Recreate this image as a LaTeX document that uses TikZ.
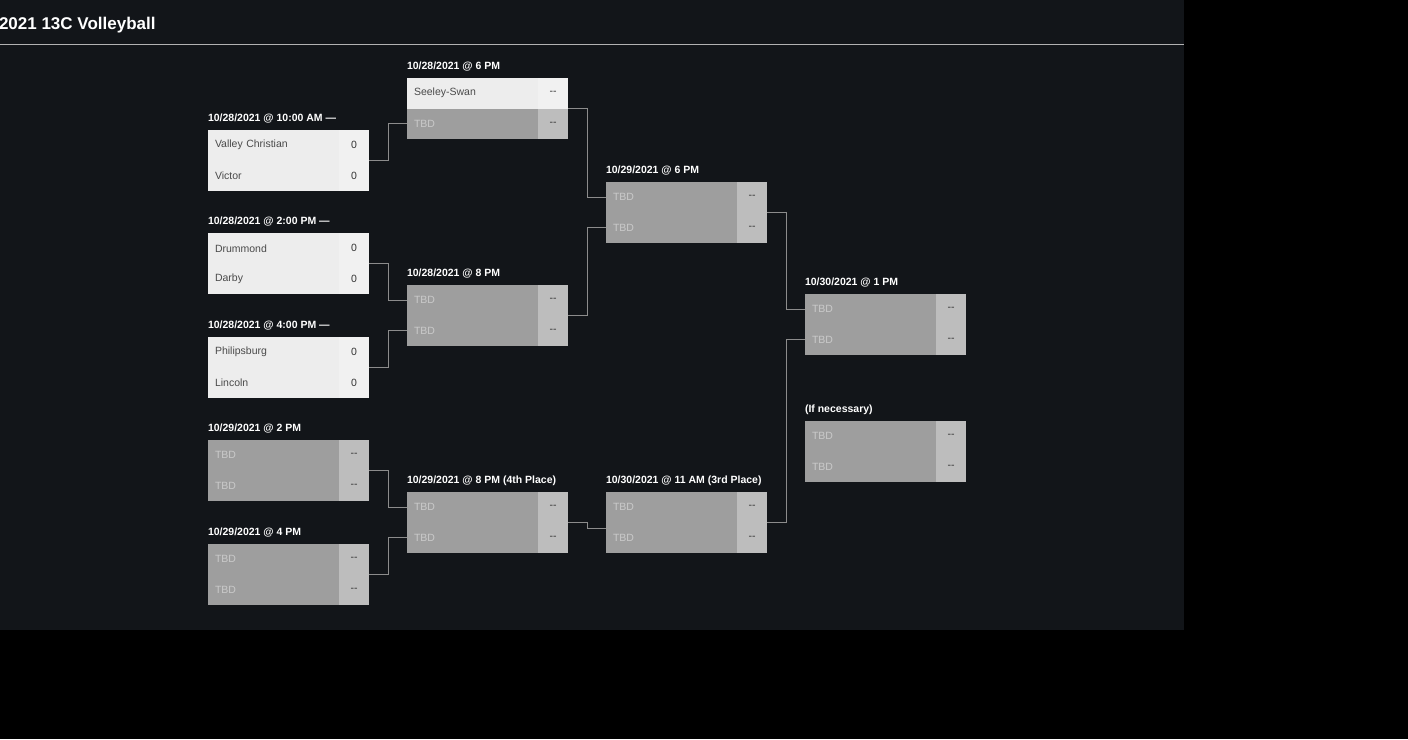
\documentclass[tikz,border=0pt]{standalone}
\usepackage{fontspec}
\setmainfont{Liberation Sans}
\usetikzlibrary{positioning}
\definecolor{panel}{HTML}{121519}
\definecolor{lite}{HTML}{EDEDED}
\definecolor{litescore}{HTML}{F1F1F1}
\definecolor{grayname}{HTML}{9E9E9E}
\definecolor{grayscore}{HTML}{BDBDBD}
\definecolor{tbdtext}{HTML}{CACACA}
\definecolor{teamtext}{HTML}{4A4A4A}
\definecolor{wirecol}{HTML}{8C8C8C}

\begin{document}
\begin{tikzpicture}[x=1pt, y=-1pt, every node/.style={font=\fontsize{10.5}{12}\selectfont, outer sep=0pt},
  lname/.style={anchor=north west, text width=117pt, inner xsep=7pt, inner ysep=0pt, minimum height=30.5pt, align=left, fill=lite, text=teamtext},
  gname/.style={lname, fill=grayname, text=tbdtext},
  lscore/.style={minimum width=30pt, minimum height=30.5pt, inner sep=0pt, fill=litescore, text=black!80},
  gscore/.style={lscore, fill=grayscore},
  head/.style={anchor=base west, inner sep=0pt, text=white, font=\bfseries\fontsize{10.5}{12}\selectfont},
  wire/.style={draw=wirecol, line width=1pt}]
\useasboundingbox (0,0) rectangle (1408,739);
\fill[black] (0,0) rectangle (1408,739);
\fill[panel] (0,0) rectangle (1184,630);
\draw[draw=black!30!white, line width=1.2pt] (0,44.5) -- (1184,44.5);
\node[anchor=base west, inner sep=0pt, text=white, font=\bfseries\fontsize{17}{20}\selectfont] (title) at (-1,29) {2021 13C Volleyball};

% first round
\node[lname] (a1) at (208,130) {Valley Christian};
\node[lscore, right=0pt of a1] (a1s) {0};
\node[lname, below=0pt of a1] (a2) {Victor};
\node[lscore, right=0pt of a2] (a2s) {0};
\node[head] (ah) at ([yshift=9pt]a1.north west) {10/28/2021 @ 10:00 AM —};

\node[lname] (b1) at (208,233) {Drummond};
\node[lscore, right=0pt of b1] (b1s) {0};
\node[lname, below=0pt of b1] (b2) {Darby};
\node[lscore, right=0pt of b2] (b2s) {0};
\node[head] (bh) at ([yshift=9pt]b1.north west) {10/28/2021 @ 2:00 PM —};

\node[lname] (c1) at (208,337) {Philipsburg};
\node[lscore, right=0pt of c1] (c1s) {0};
\node[lname, below=0pt of c1] (c2) {Lincoln};
\node[lscore, right=0pt of c2] (c2s) {0};
\node[head] (ch) at ([yshift=9pt]c1.north west) {10/28/2021 @ 4:00 PM —};

\node[gname] (d1) at (208,440) {TBD};
\node[gscore, right=0pt of d1] (d1s) {-{}-};
\node[gname, below=0pt of d1] (d2) {TBD};
\node[gscore, right=0pt of d2] (d2s) {-{}-};
\node[head] (dh) at ([yshift=9pt]d1.north west) {10/29/2021 @ 2 PM};

\node[gname] (e1) at (208,544) {TBD};
\node[gscore, right=0pt of e1] (e1s) {-{}-};
\node[gname, below=0pt of e1] (e2) {TBD};
\node[gscore, right=0pt of e2] (e2s) {-{}-};
\node[head] (eh) at ([yshift=9pt]e1.north west) {10/29/2021 @ 4 PM};

% second round
\node[lname] (f1) at (407,78) {Seeley-Swan};
\node[lscore, right=0pt of f1] (f1s) {-{}-};
\node[gname, below=0pt of f1] (f2) {TBD};
\node[gscore, right=0pt of f2] (f2s) {-{}-};
\node[head] (fh) at ([yshift=9pt]f1.north west) {10/28/2021 @ 6 PM};

\node[gname] (g1) at (407,285) {TBD};
\node[gscore, right=0pt of g1] (g1s) {-{}-};
\node[gname, below=0pt of g1] (g2) {TBD};
\node[gscore, right=0pt of g2] (g2s) {-{}-};
\node[head] (gh) at ([yshift=9pt]g1.north west) {10/28/2021 @ 8 PM};

\node[gname] (h1) at (407,492) {TBD};
\node[gscore, right=0pt of h1] (h1s) {-{}-};
\node[gname, below=0pt of h1] (h2) {TBD};
\node[gscore, right=0pt of h2] (h2s) {-{}-};
\node[head] (hh) at ([yshift=9pt]h1.north west) {10/29/2021 @ 8 PM (4th Place)};

% third round
\node[gname] (i1) at (606,182) {TBD};
\node[gscore, right=0pt of i1] (i1s) {-{}-};
\node[gname, below=0pt of i1] (i2) {TBD};
\node[gscore, right=0pt of i2] (i2s) {-{}-};
\node[head] (ih) at ([yshift=9pt]i1.north west) {10/29/2021 @ 6 PM};

\node[gname] (j1) at (606,492) {TBD};
\node[gscore, right=0pt of j1] (j1s) {-{}-};
\node[gname, below=0pt of j1] (j2) {TBD};
\node[gscore, right=0pt of j2] (j2s) {-{}-};
\node[head] (jh) at ([yshift=9pt]j1.north west) {10/30/2021 @ 11 AM (3rd Place)};
\coordinate (jin) at ([yshift=-6pt]j1.south west);

% final
\node[gname] (k1) at (805,294) {TBD};
\node[gscore, right=0pt of k1] (k1s) {-{}-};
\node[gname, below=0pt of k1] (k2) {TBD};
\node[gscore, right=0pt of k2] (k2s) {-{}-};
\node[head] (kh) at ([yshift=9pt]k1.north west) {10/30/2021 @ 1 PM};

\node[gname] (l1) at (805,421) {TBD};
\node[gscore, right=0pt of l1] (l1s) {-{}-};
\node[gname, below=0pt of l1] (l2) {TBD};
\node[gscore, right=0pt of l2] (l2s) {-{}-};
\node[head] (lh) at ([yshift=9pt]l1.north west) {(If necessary)};

% connectors
\draw[wire] (a1s.south east) -- ++(19,0) |- (f2.west);
\draw[wire] (b1s.south east) -- ++(19,0) |- (g1.west);
\draw[wire] (c1s.south east) -- ++(19,0) |- (g2.west);
\draw[wire] (d1s.south east) -- ++(19,0) |- (h1.west);
\draw[wire] (e1s.south east) -- ++(19,0) |- (h2.west);
\draw[wire] (f1s.south east) -- ++(19,0) |- (i1.west);
\draw[wire] (g1s.south east) -- ++(19,0) |- (i2.west);
\draw[wire] (h1s.south east) -- ++(19,0) |- (jin);
\draw[wire] (i1s.south east) -- ++(19,0) |- (k1.west);
\draw[wire] (j1s.south east) -- ++(19,0) |- (k2.west);
\end{tikzpicture}
\end{document}
